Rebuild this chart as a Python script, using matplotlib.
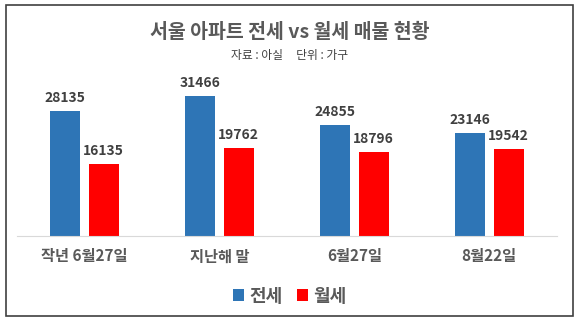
import numpy as np
import matplotlib
matplotlib.use('Agg')
import matplotlib.pyplot as plt
from matplotlib.patches import Rectangle

plt.rcParams['font.family'] = ['Noto Sans CJK KR', 'DejaVu Sans']

categories = ['작년 6월27일', '지난해 말', '6월27일', '8월22일']
jeonse = [28135, 31466, 24855, 23146]
wolse = [16135, 19762, 18796, 19542]

blue = '#2E75B6'
red = '#FF0000'

fig = plt.figure(figsize=(5.8, 3.25), dpi=100)
ax = fig.add_axes([0.029, 0.274, 0.931, 0.48])

x = np.arange(len(categories))
w = 0.222
off = 0.144
b1 = ax.bar(x - off, jeonse, w, color=blue, label='전세')
b2 = ax.bar(x + off, wolse, w, color=red, label='월세')

for bars, vals in [(b1, jeonse), (b2, wolse)]:
    for b, v in zip(bars, vals):
        ax.text(b.get_x() + b.get_width() / 2, v + 1300, str(v), ha='center', va='bottom',
                fontsize=10, fontweight='bold', color='#404040')

ax.set_xlim(-0.5, 3.5)
ax.set_ylim(0, 35000)
ax.set_yticks([])
ax.set_xticks(x)
ax.set_xticklabels(categories, fontsize=11, fontweight='bold', color='#595959')
ax.tick_params(axis='x', length=0, pad=9)
for s in ['top', 'right', 'left']:
    ax.spines[s].set_visible(False)
ax.spines['bottom'].set_color('#D9D9D9')

fig.text(0.5, 1 - 32 / 325, '서울 아파트 전세 vs 월세 매물 현황', ha='center', va='center',
         fontsize=14, fontweight='bold', color='#595959')
fig.text(0.5, 1 - 56 / 325, '자료 : 아실     단위 : 가구', ha='center', va='center',
         fontsize=8.5, color='#404040')

leg = fig.legend(handles=[b1, b2], loc='center', bbox_to_anchor=(0.5, 1 - 296 / 325),
                 ncol=2, frameon=False, handlelength=0.6, handleheight=0.6,
                 handletextpad=0.3, columnspacing=0.8,
                 prop={'size': 13, 'weight': 'bold'})
for t in leg.get_texts():
    t.set_color('#595959')

fig.patches.append(Rectangle((6 / 580, 1 - 316 / 325), 567 / 580, 311 / 325,
                             transform=fig.transFigure, fill=False,
                             edgecolor='#404040', linewidth=1.2))

fig.savefig('out.png', dpi=100)
